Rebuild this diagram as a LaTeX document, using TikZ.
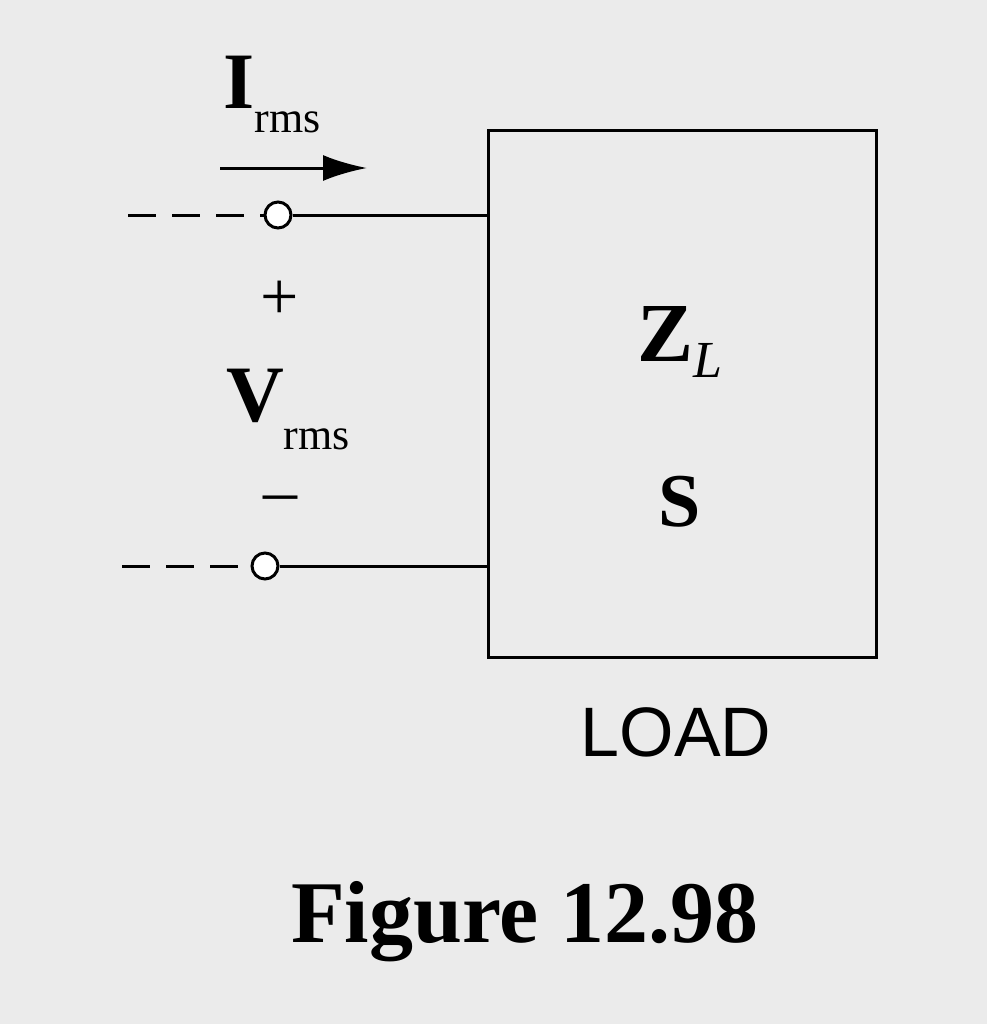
\documentclass[tikz,border=0pt]{standalone}
\usepackage{fontspec}
\setmainfont{Liberation Serif}
\newfontfamily\lsans{Liberation Sans}
\usetikzlibrary{arrows.meta}
\begin{document}
\begin{tikzpicture}[x=0.5pt,y=-0.5pt,line width=1.5pt,
  term/.style={circle,draw,fill=white,inner sep=0pt,minimum size=13pt,line width=1.5pt},
  lbl/.style={inner sep=0pt}]
\fill[white!92!black] (0,0) rectangle (987,1024);
\useasboundingbox (0,0) rectangle (987,1024);
\node[draw,line width=1.5pt,minimum width=194pt,minimum height=263.5pt,inner sep=0pt] (box) at (682,393.5) {};
\node[term] (t1) at (278,215) {};
\node[term] (t2) at (265,566) {};
\coordinate (d1) at (128,215);
\coordinate (d2) at (122,566);
\coordinate (b1) at (box.west |- t1);
\coordinate (b2) at (box.west |- t2);
\draw (t1) -- (b1);
\draw (t2) -- (b2);
\draw[dashed,dash pattern=on 14pt off 8pt] (d1) -- (t1);
\draw[dashed,dash pattern=on 14pt off 8pt] (d2) -- (t2);
\coordinate (a1) at (220,168);
\coordinate (a2) at (367,168);
\draw[-{Latex[length=22pt,width=13pt]}] (a1) -- (a2);
\node[lbl] (I) at (272,95) {\fontsize{40}{42}\selectfont\bfseries I\raisebox{-12pt}{\fontsize{22}{24}\selectfont\mdseries rms}};
\node[lbl] (plus) at (280,300) {\fontsize{34}{36}\selectfont +};
\node[lbl] (V) at (288,410) {\fontsize{40}{42}\selectfont\bfseries V\raisebox{-14pt}{\fontsize{22}{24}\selectfont\mdseries rms}};
\node[lbl] (minus) at (280,505) {\fontsize{34}{36}\selectfont \textendash};
\node[lbl] (Z) at (680,342) {\fontsize{42}{44}\selectfont\bfseries Z\raisebox{-8pt}{\fontsize{26}{28}\selectfont\mdseries\itshape L}};
\node[lbl] (S) at (680,502) {\fontsize{38}{40}\selectfont\bfseries S};
\node[lbl] (load) at (676,732) {\fontsize{35}{37}\selectfont\lsans LOAD};
\node[lbl] (fig) at (525,922) {\fontsize{44}{46}\selectfont\bfseries Figure 12.98};
\end{tikzpicture}
\end{document}
